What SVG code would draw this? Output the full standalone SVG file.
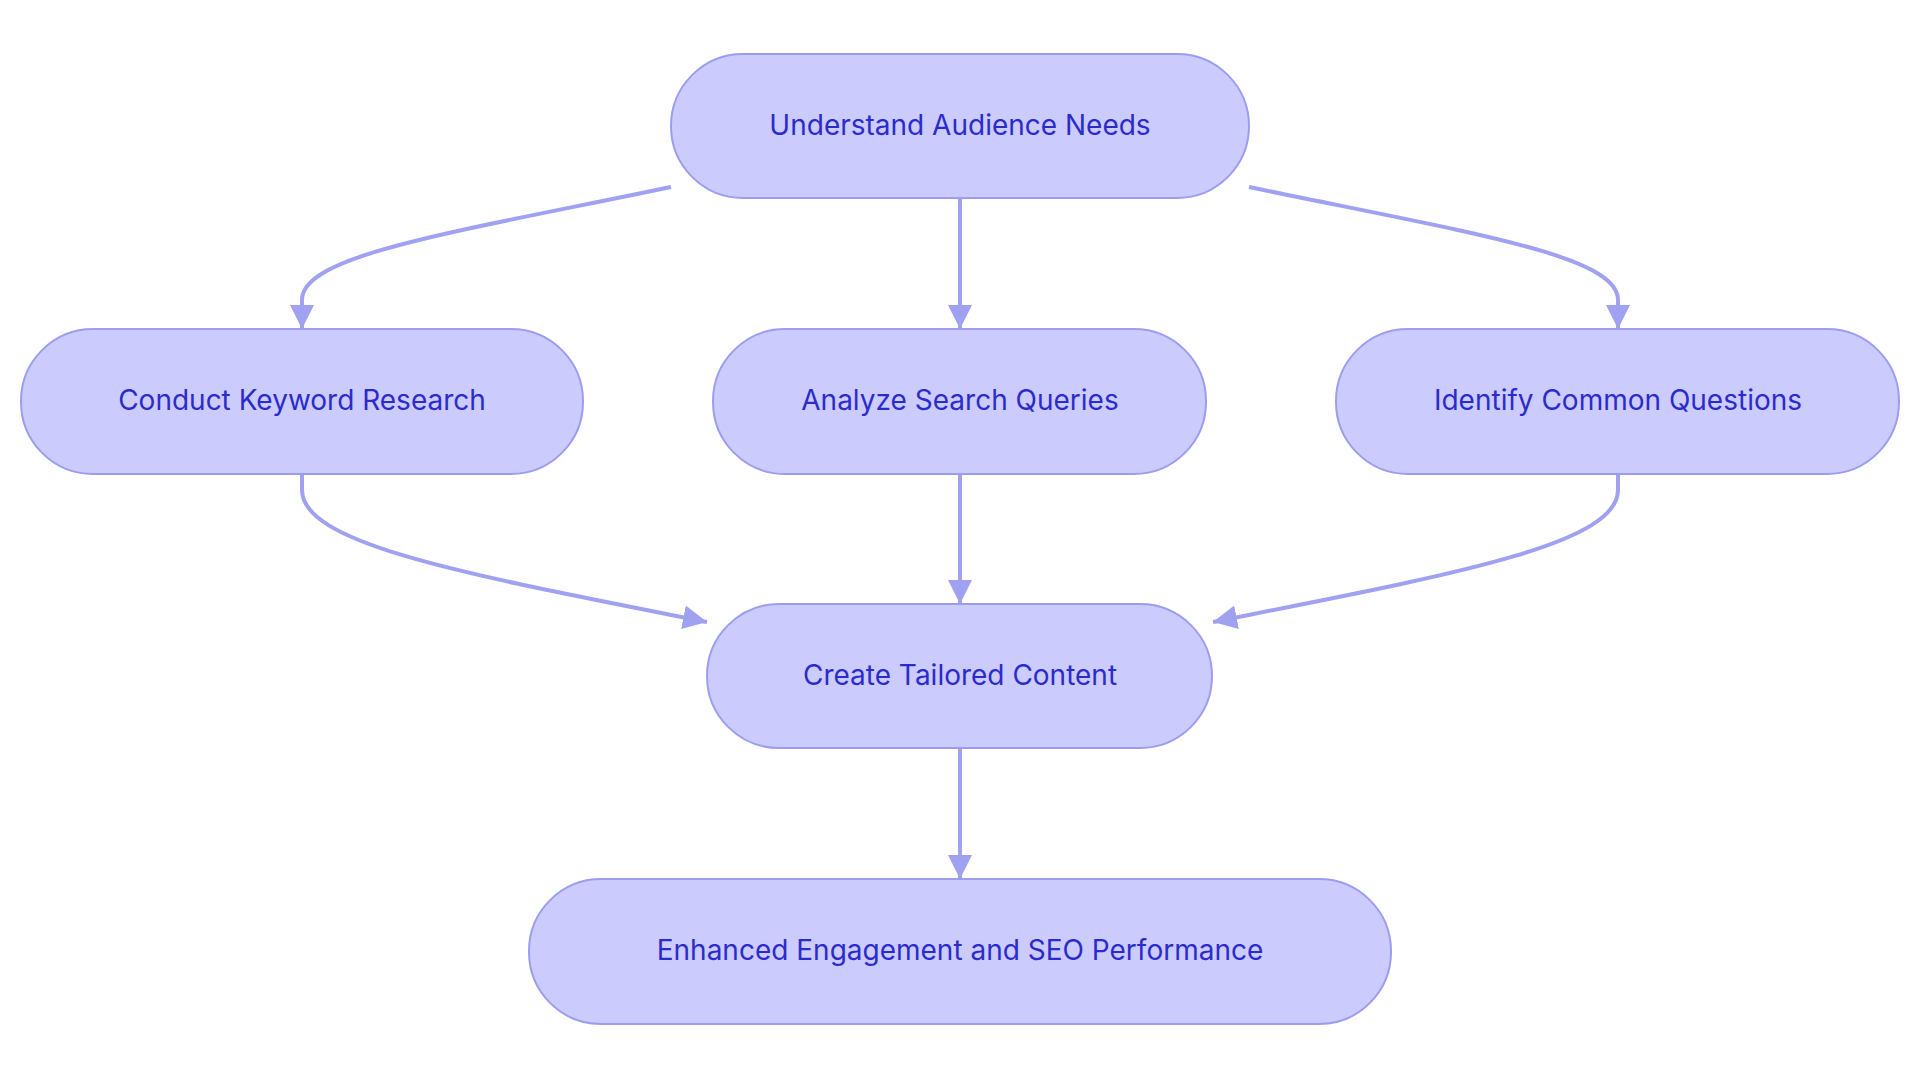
<svg xmlns="http://www.w3.org/2000/svg" width="1920" height="1083" viewBox="0 0 1920 1083">
<style>
.n{fill:#cbcbfd;stroke:#9d9df0;stroke-width:2}
.t{font-family:Inter,"Noto Sans",sans-serif;font-size:28px;fill:#2b2bcc;text-anchor:middle;dominant-baseline:central}
.e{fill:none;stroke:#a0a1f0;stroke-width:4}
</style>
<defs><marker id="a" markerUnits="userSpaceOnUse" viewBox="0 0 10 10" refX="10" refY="5" markerWidth="24" markerHeight="28" orient="auto"><path d="M0,0 L10,5 L0,10 z" fill="#a0a1f0"/></marker></defs>
<rect width="1920" height="1083" fill="#fff"/>
<g id="edges">
<path class="e" d="M671,187 C450,233 302,255 302,300 L302,329" marker-end="url(#a)"/>
<path class="e" d="M960,198 L960,329" marker-end="url(#a)"/>
<path class="e" d="M1249,187 C1470,233 1618,255 1618,300 L1618,329" marker-end="url(#a)"/>
<path class="e" d="M302,474 L302,490 C302,545 470,575 707,622" marker-end="url(#a)"/>
<path class="e" d="M960,474 L960,604" marker-end="url(#a)"/>
<path class="e" d="M1618,474 L1618,490 C1618,545 1450,575 1213,622" marker-end="url(#a)"/>
<path class="e" d="M960,748 L960,879" marker-end="url(#a)"/>
</g>
<g id="n1"><rect class="n" x="671" y="54" width="578" height="144" rx="72"/><text class="t" x="960" y="125">Understand Audience Needs</text></g>
<g id="n2"><rect class="n" x="21" y="329" width="562" height="145" rx="72"/><text class="t" x="302" y="400">Conduct Keyword Research</text></g>
<g id="n3"><rect class="n" x="713" y="329" width="493" height="145" rx="72"/><text class="t" x="960" y="400">Analyze Search Queries</text></g>
<g id="n4"><rect class="n" x="1336" y="329" width="563" height="145" rx="72"/><text class="t" x="1618" y="400">Identify Common Questions</text></g>
<g id="n5"><rect class="n" x="707" y="604" width="505" height="144" rx="72"/><text class="t" x="960" y="675">Create Tailored Content</text></g>
<g id="n6"><rect class="n" x="529" y="879" width="862" height="145" rx="72"/><text class="t" x="960" y="950">Enhanced Engagement and SEO Performance</text></g>
</svg>
